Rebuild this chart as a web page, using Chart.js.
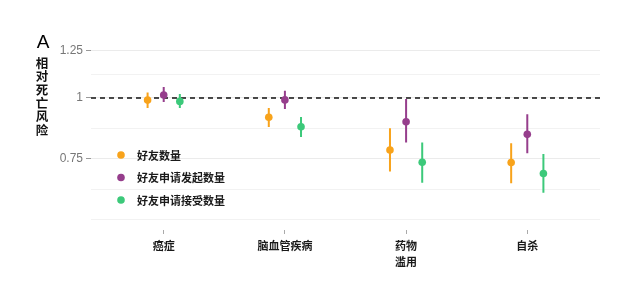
<!DOCTYPE html>
<html><head><meta charset="utf-8">
<script src="https://cdn.jsdelivr.net/npm/chart.js@4.4.1/dist/chart.umd.min.js"></script>
<style>html,body{margin:0;padding:0;background:#fff}#wrap{position:relative;width:640px;height:298px}</style>
</head><body><div id="wrap"><canvas id="c" width="640" height="298"></canvas></div>
<script>
// ---- data ----
const categories = ['癌症', '脑血管疾病', '药物\n滥用', '自杀'];
const seriesNames = ['好友数量', '好友申请发起数量', '好友申请接受数量'];
const friendsEst  = [0.990, 0.913, 0.782, 0.737];
const friendsLow  = [0.954, 0.872, 0.706, 0.668];
const friendsHigh = [1.026, 0.954, 0.867, 0.807];
const sentEst     = [1.014, 0.991, 0.894, 0.842];
const sentLow     = [0.981, 0.949, 0.810, 0.770];
const sentHigh    = [1.053, 1.035, 0.995, 0.926];
const acceptEst   = [0.984, 0.873, 0.738, 0.700];
const acceptLow   = [0.954, 0.832, 0.670, 0.639];
const acceptHigh  = [1.019, 0.914, 0.810, 0.767];
const yTickLabels = [1.25, 1, 0.75];
const yTitle = '相对死亡风险';
const panelLabel = 'A';
const refValue = 1;

// ---- styles ----
const colors = ['#F8A31B', '#963E8C', '#3CC97A'];
const dodge = [-0.133, 0, 0.133];
const CJK = "'Noto Sans CJK SC', sans-serif";
const LAT = "'Liberation Sans', Arial, sans-serif";

const est = [friendsEst, sentEst, acceptEst];
const low = [friendsLow, sentLow, acceptLow];
const high = [friendsHigh, sentHigh, acceptHigh];

// minor grid positions: geometric midpoints (ggplot-style minor breaks on log scale)
const majors = yTickLabels.slice().sort((a,b)=>a-b);
const ext = majors[0] * majors[0] / majors[1];
const allBreaks = [ext].concat(majors);
const gridVals = [];
for (let i = 0; i < allBreaks.length; i++) {
  gridVals.push(allBreaks[i]);
  if (i < allBreaks.length - 1) gridVals.push(Math.sqrt(allBreaks[i]*allBreaks[i+1]));
}

const datasets = [];
datasets.push({
  type: 'line', order: 5,
  data: [{x: -0.6, y: refValue}, {x: 3.6, y: refValue}],
  borderColor: '#111', borderWidth: 1.3, borderDash: [5, 4], pointRadius: 0, fill: false
});
for (let s = 0; s < 3; s++) {
  const bars = [];
  categories.forEach((c, i) => {
    bars.push({x: i + dodge[s], y: low[s][i]});
    bars.push({x: i + dodge[s], y: high[s][i]});
    bars.push({x: i + dodge[s], y: null});
  });
  datasets.push({
    type: 'line', order: 3, data: bars, spanGaps: false,
    borderColor: colors[s], borderWidth: 2, pointRadius: 0, fill: false
  });
  datasets.push({
    type: 'scatter', order: 1, label: seriesNames[s],
    data: categories.map((c, i) => ({x: i + dodge[s], y: est[s][i]})),
    backgroundColor: colors[s], borderWidth: 0, pointRadius: 3.8
  });
}

const decor = {
  id: 'decor',
  afterDraw(chart) {
    const ctx = chart.ctx;
    ctx.save();
    ctx.fillStyle = '#000';
    ctx.font = '19px ' + LAT;
    ctx.textAlign = 'center';
    ctx.textBaseline = 'alphabetic';
    ctx.fillText(panelLabel, 43, 48);
    ctx.fillStyle = '#111';
    ctx.font = 'bold 12.5px ' + CJK;
    ctx.textBaseline = 'middle';
    const chars = Array.from(yTitle);
    chars.forEach((ch, i) => ctx.fillText(ch, 42, 63 + i * 13.4));
    // legend
    ctx.textAlign = 'left';
    ctx.font = 'bold 11px ' + CJK;
    seriesNames.forEach((n, i) => {
      const y = 155 + i * 22.5;
      ctx.fillStyle = colors[i];
      ctx.beginPath(); ctx.arc(121, y, 3.8, 0, Math.PI*2); ctx.fill();
      ctx.fillStyle = '#1a1a1a';
      ctx.fillText(n, 137, y + 0.5);
    });
    ctx.restore();
  }
};

new Chart(document.getElementById('c'), {
  type: 'scatter',
  data: {datasets},
  plugins: [decor],
  options: {
    responsive: false, animation: false, events: [],
    layout: {padding: {left: 0, right: 40, top: 44, bottom: 0}},
    plugins: {legend: {display: false}, tooltip: {enabled: false}},
    scales: {
      x: {
        type: 'linear', min: -0.6, max: 3.6,
        afterBuildTicks: s => { s.ticks = categories.map((c, i) => ({value: i})); },
        afterFit: s => { s.height = 68; },
        border: {display: false},
        grid: {drawOnChartArea: false, drawTicks: true, tickLength: 4, tickColor: '#aaa', lineWidth: 1},
        ticks: {
          autoSkip: false, maxRotation: 0, padding: 4, color: '#1a1a1a',
          font: {family: CJK, size: 11, weight: 'bold', lineHeight: 1.45},
          callback: v => categories[v] !== undefined ? categories[v].split('\n') : ''
        }
      },
      y: {
        type: 'logarithmic', min: 0.5357, max: 1.2909,
        afterBuildTicks: s => { s.ticks = gridVals.map(v => ({value: v})); },
        afterFit: s => { s.width = 91; },
        border: {display: false},
        grid: {
          drawTicks: true, tickLength: 5,
          color: c => (c.tick && yTickLabels.includes(c.tick.value)) ? '#ebebeb' : '#f2f2f2',
          tickColor: c => (c.tick && yTickLabels.includes(c.tick.value)) ? '#999' : 'rgba(0,0,0,0)'
        },
        ticks: {
          padding: 3, color: '#777', font: {family: LAT, size: 12},
          callback: v => yTickLabels.includes(v) ? String(v) : ''
        }
      }
    }
  }
});
</script></body></html>
